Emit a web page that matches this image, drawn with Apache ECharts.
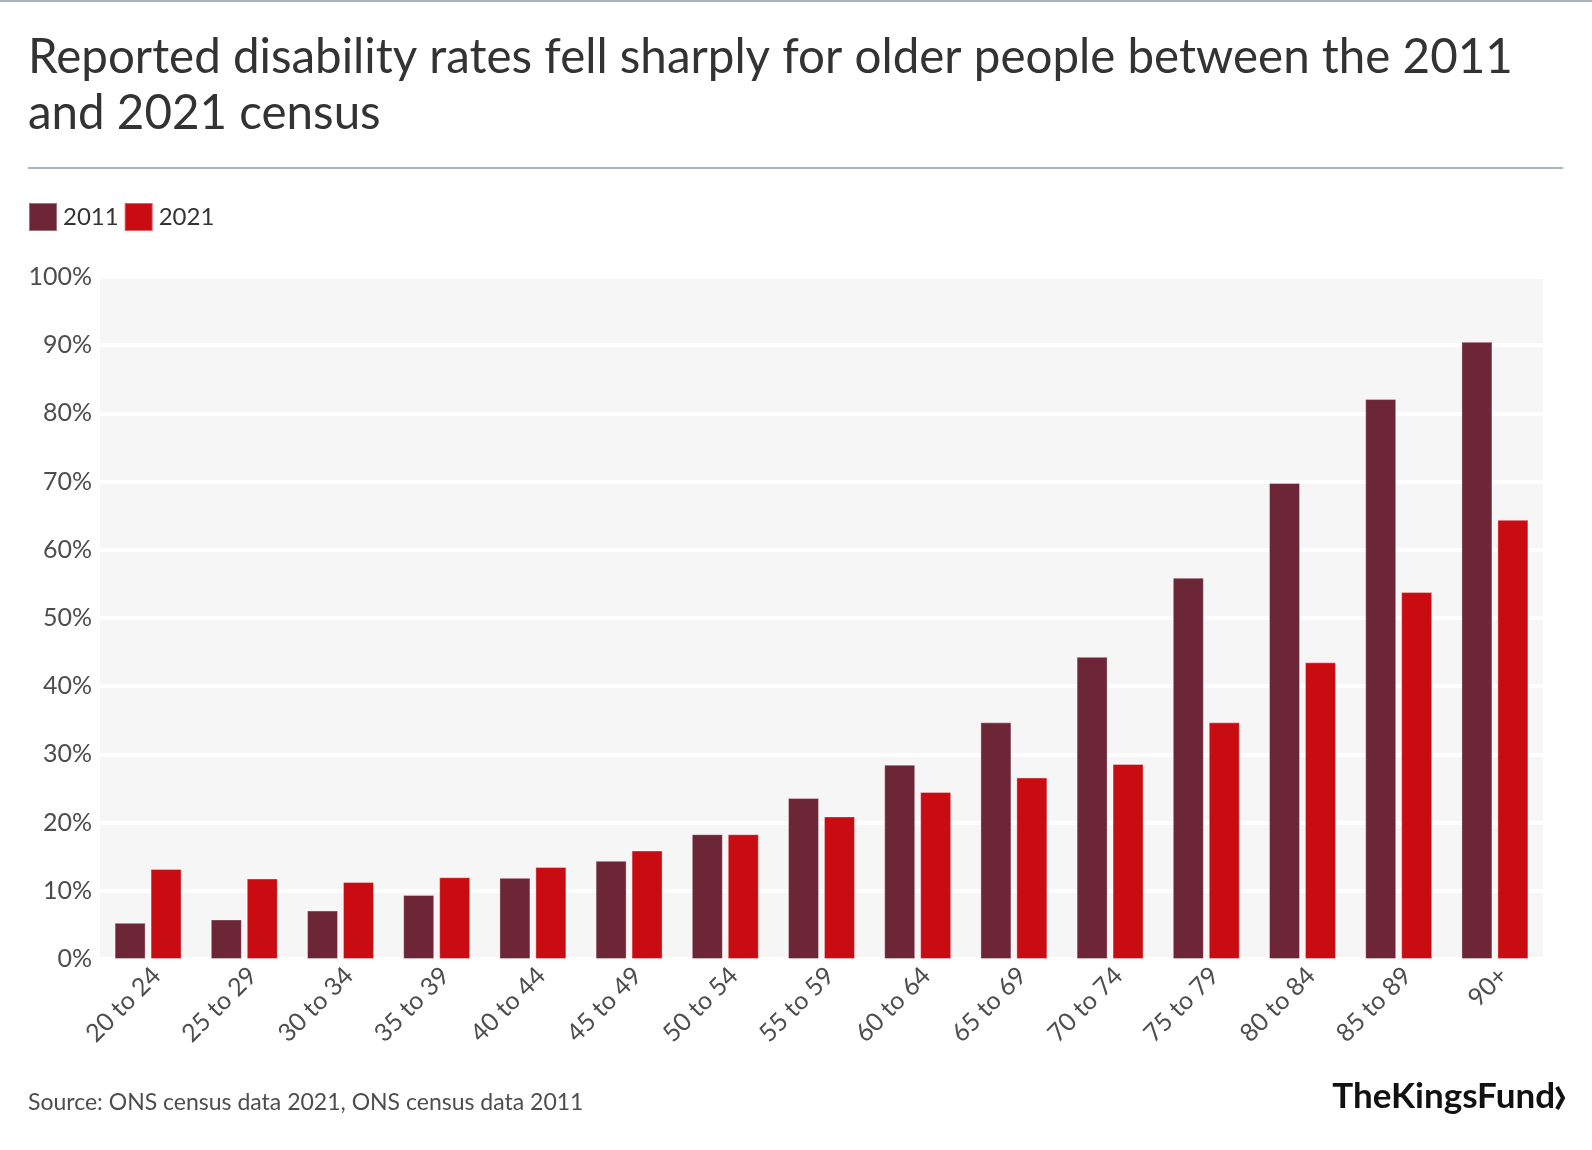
<!DOCTYPE html>
<html>
<head>
<meta charset="utf-8">
<script src="https://cdn.jsdelivr.net/npm/echarts@6/dist/echarts.min.js"></script>
<style>
html,body{margin:0;padding:0;background:#fff;}
#chart{width:1592px;height:1150px;}
</style>
</head>
<body>
<div id="chart"></div>
<script>
const categories = ['20 to 24','25 to 29','30 to 34','35 to 39','40 to 44','45 to 49','50 to 54','55 to 59','60 to 64','65 to 69','70 to 74','75 to 79','80 to 84','85 to 89','90+'];
const values2011 = [5.3, 5.8, 7.1, 9.4, 11.9, 14.4, 18.3, 23.6, 28.5, 34.7, 44.3, 55.9, 69.8, 82.1, 90.5];
const values2021 = [13.2, 11.8, 11.3, 12.0, 13.5, 15.9, 18.3, 20.9, 24.5, 26.6, 28.6, 34.7, 43.5, 53.8, 64.4];
const seriesNames = ['2011', '2021'];
const yTicks = [0, 10, 20, 30, 40, 50, 60, 70, 80, 90, 100];

const FONT = 'Lato';
const chart = echarts.init(document.getElementById('chart'));
chart.setOption({
  backgroundColor: '#ffffff',
  animation: false,
  textStyle: { fontFamily: FONT },
  title: {
    text: 'Reported disability rates fell sharply for older people between the 2011\nand 2021 census',
    left: 28, top: 30, padding: 0,
    textStyle: { fontFamily: FONT, fontSize: 47.5, fontWeight: 'normal', color: '#333333', lineHeight: 56 }
  },
  legend: {
    data: seriesNames,
    left: 28, top: 202, padding: 0,
    icon: 'rect', itemWidth: 28, itemHeight: 28, itemGap: 5,
    textStyle: { fontFamily: FONT, fontSize: 24, color: '#333333', padding: [0, 0, 0, 1] }
  },
  grid: {
    left: 100, right: 49, top: 277, bottom: 191,
    show: true, backgroundColor: '#f6f6f6', borderWidth: 0, containLabel: false
  },
  xAxis: {
    type: 'category',
    data: categories,
    axisLine: { show: false },
    axisTick: { show: false },
    axisLabel: { rotate: 45, fontFamily: FONT, fontSize: 25, color: '#4d4d4d', margin: 21, interval: 0, padding: [0, -12, 0, 0] }
  },
  yAxis: {
    type: 'value',
    min: yTicks[0], max: yTicks[yTicks.length - 1], interval: 10,
    axisLine: { show: false },
    axisTick: { show: false },
    splitLine: { show: true, lineStyle: { color: '#ffffff', width: 4 } },
    axisLabel: { formatter: '{value}%', fontFamily: FONT, fontSize: 25, color: '#4d4d4d', margin: 8 }
  },
  series: [
    {
      name: seriesNames[0], type: 'bar', data: values2011,
      barWidth: 31, barGap: '16%',
      itemStyle: { color: '#6d2538', borderColor: 'rgba(255,255,255,0.35)', borderWidth: 1 }
    },
    {
      name: seriesNames[1], type: 'bar', data: values2021,
      barWidth: 31, barGap: '16%',
      itemStyle: { color: '#c90c11', borderColor: 'rgba(255,255,255,0.35)', borderWidth: 1 }
    }
  ],
  graphic: [
    { type: 'rect', shape: { x: 0, y: 0, width: 1592, height: 2 }, style: { fill: '#aab4b8' } },
    { type: 'rect', shape: { x: 28, y: 167, width: 1535, height: 2 }, style: { fill: '#aab4b8' } },
    { type: 'text', left: 28, top: 1091, style: { text: 'Source: ONS census data 2021, ONS census data 2011', fontFamily: FONT, fontSize: 23, fill: '#4d4d4d' } },
    { type: 'text', right: 37, top: 1079, style: { text: 'TheKingsFund', fontFamily: FONT, fontSize: 35, fontWeight: 'bold', fill: '#111111', letterSpacing: -1.5 } },
    { type: 'polyline', shape: { points: [[1557, 1087], [1563, 1098], [1557, 1109]] }, style: { stroke: '#111111', lineWidth: 4, fill: 'none' } }
  ]
});
</script>
</body>
</html>
